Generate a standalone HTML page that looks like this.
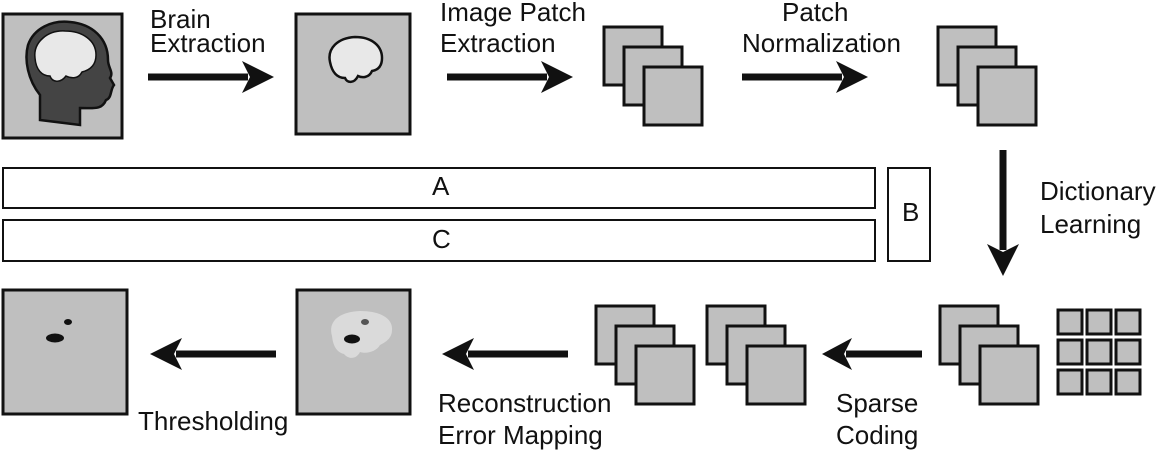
<!DOCTYPE html>
<html><head><style>
body{margin:0;background:#fff;}
svg text{font-family:"Liberation Sans",sans-serif;font-size:26px;fill:#111;}
</style></head><body>
<svg width="1158" height="452" viewBox="0 0 1158 452" xmlns="http://www.w3.org/2000/svg">
<defs>
<g id="ar"><rect x="0" y="-3.5" width="100" height="7" fill="#111"/><path d="M94,-16 L126,0 L94,16 L102,0 Z" fill="#111"/></g>
<g id="ars"><rect x="0" y="-3.5" width="76" height="7" fill="#111"/><path d="M70,-16 L100,0 L70,16 L78,0 Z" fill="#111"/></g>
<g id="stk" fill="#bfbfbf" stroke="#111" stroke-width="3">
<rect x="0" y="0" width="58" height="58"/><rect x="20" y="20" width="58" height="58"/><rect x="40" y="40" width="58" height="58"/></g>
</defs>
<rect x="3" y="14" width="119" height="124" fill="#bfbfbf" stroke="#111" stroke-width="3"/>
<path d="M40,120 L40,95 C28,80 24,60 28,45 C34,28 52,20 70,22 C92,24 108,38 108,60 C108,68 114,72 110,78 L114,85 C110,90 112,98 106,100 C102,110 94,108 80,108 L80,125 Z" fill="#444" stroke="#111" stroke-width="2.5"/>
<path d="M35,58 C33,42 48,30 65,31 C82,31 96,40 96,55 C96,65 90,70 82,72 C78,80 70,78 66,76 C60,84 52,82 50,76 C42,76 36,70 35,58 Z" fill="#e8e8e8" stroke="#111" stroke-width="1.5"/>
<rect x="296" y="14" width="114" height="120" fill="#bfbfbf" stroke="#111" stroke-width="3"/>
<path d="M330,62 C327,48 338,38 355,37 C372,37 382,46 382,58 C382,66 378,70 372,71 C369,78 362,78 358,76 C354,84 347,83 345,78 C337,78 332,72 330,62 Z" fill="#e8e8e8" stroke="#111" stroke-width="2.5"/>
<use href="#ar" x="148" y="77"/>
<text x="150" y="28">Brain</text><text x="150" y="52">Extraction</text>
<use href="#ar" x="447" y="77"/>
<text x="440" y="21">Image Patch</text><text x="440" y="52">Extraction</text>
<use href="#stk" x="604" y="27"/>
<use href="#ar" x="742" y="77"/>
<text x="782" y="21">Patch</text><text x="742" y="52">Normalization</text>
<use href="#stk" x="938" y="27"/>
<g transform="translate(1003,150) rotate(90)"><use href="#ar"/></g>
<text x="1040" y="200">Dictionary</text><text x="1040" y="233">Learning</text>
<rect x="3" y="168" width="872" height="40" fill="#fff" stroke="#111" stroke-width="2"/>
<text x="432" y="195" font-size="18">A</text>
<rect x="3" y="220" width="872" height="41" fill="#fff" stroke="#111" stroke-width="2"/>
<text x="432" y="248" font-size="18">C</text>
<rect x="888" y="168" width="42" height="93" fill="#fff" stroke="#111" stroke-width="2"/>
<text x="902" y="221" font-size="18">B</text>
<rect x="3" y="290" width="124" height="124" fill="#bfbfbf" stroke="#111" stroke-width="3"/>
<ellipse cx="55" cy="338" rx="9" ry="4.5" fill="#111"/><ellipse cx="68" cy="322" rx="4" ry="3" fill="#111"/>
<rect x="297" y="290" width="113" height="124" fill="#bfbfbf" stroke="#111" stroke-width="3"/>
<path d="M332,336 C328,322 338,312 360,311 C380,311 393,318 392,330 C392,338 386,342 380,345 C376,352 366,354 360,352 C356,360 348,359 344,354 C336,352 333,345 332,336 Z" fill="#dadada"/>
<ellipse cx="352" cy="339" rx="8" ry="4.5" fill="#111"/><ellipse cx="365" cy="322" rx="4" ry="3" fill="#555"/>
<g transform="translate(276,354) rotate(180)"><use href="#ar"/></g>
<text x="138" y="430">Thresholding</text>
<g transform="translate(568,354) rotate(180)"><use href="#ar"/></g>
<text x="438" y="412">Reconstruction</text><text x="438" y="444">Error Mapping</text>
<use href="#stk" x="596" y="306"/>
<use href="#stk" x="707" y="306"/>
<g transform="translate(922,354) rotate(180)"><use href="#ars"/></g>
<text x="836" y="412">Sparse</text><text x="836" y="444">Coding</text>
<use href="#stk" x="940" y="306"/>
<g fill="#bfbfbf" stroke="#111" stroke-width="3">
<rect x="1058" y="310" width="24" height="24"/><rect x="1087" y="310" width="24" height="24"/><rect x="1116" y="310" width="24" height="24"/>
<rect x="1058" y="340" width="24" height="24"/><rect x="1087" y="340" width="24" height="24"/><rect x="1116" y="340" width="24" height="24"/>
<rect x="1058" y="370" width="24" height="24"/><rect x="1087" y="370" width="24" height="24"/><rect x="1116" y="370" width="24" height="24"/>
</g>
</svg>
</body></html>
